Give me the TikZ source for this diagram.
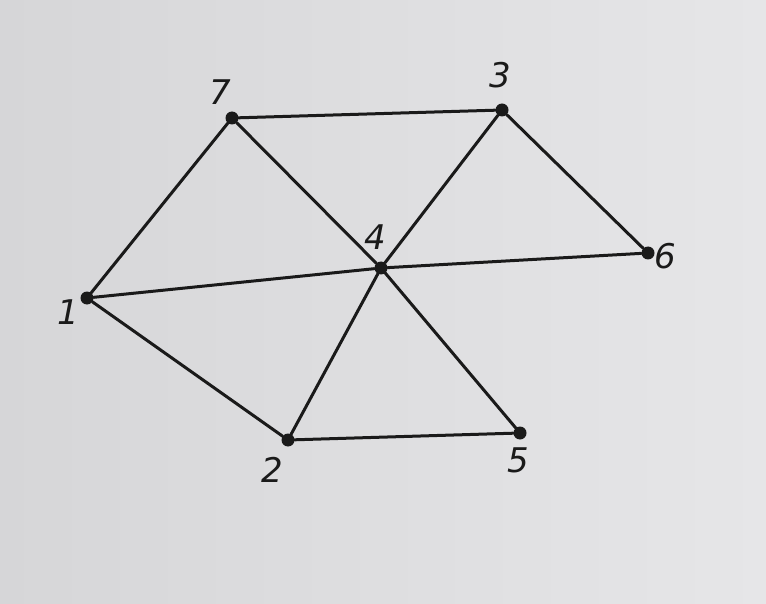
\documentclass[tikz,border=0pt]{standalone}
\usepackage{fontspec}
\setmainfont{DejaVu Sans}
\definecolor{bgl}{HTML}{D6D6D8}
\definecolor{bgr}{HTML}{E6E6E8}
\definecolor{ink}{HTML}{1A1A1A}
\begin{document}
\begin{tikzpicture}[x=1pt,y=-1pt,
  vert/.style={circle,fill=ink,inner sep=0pt,minimum size=13pt},
  lab/.style={font=\fontsize{34}{34}\selectfont\itshape,text=ink,inner sep=0pt},
  edge/.style={draw=ink,line width=3pt,line cap=round}]
\shade[left color=bgl,right color=bgr] (0,0) rectangle (766,604);
\useasboundingbox (0,0) rectangle (766,604);
\node[vert] (n1) at (87,298) {};
\node[vert] (n2) at (288,440) {};
\node[vert] (n3) at (502,110) {};
\node[vert] (n4) at (381,268) {};
\node[vert] (n5) at (520,433) {};
\node[vert] (n6) at (648,253) {};
\node[vert] (n7) at (232,118) {};
\node[lab] (l1) at (68,312) {1};
\node[lab] (l2) at (272,470) {2};
\node[lab] (l3) at (500,75) {3};
\node[lab] (l4) at (375,237) {4};
\node[lab] (l5) at (518,460) {5};
\node[lab] (l6) at (665,256) {6};
\node[lab] (l7) at (220,92) {7};
\path[edge] (n7) -- (n3);
\path[edge] (n7) -- (n1);
\path[edge] (n7) -- (n4);
\path[edge] (n3) -- (n4);
\path[edge] (n3) -- (n6);
\path[edge] (n4) -- (n6);
\path[edge] (n4) -- (n1);
\path[edge] (n4) -- (n2);
\path[edge] (n4) -- (n5);
\path[edge] (n1) -- (n2);
\path[edge] (n2) -- (n5);
\end{tikzpicture}
\end{document}
